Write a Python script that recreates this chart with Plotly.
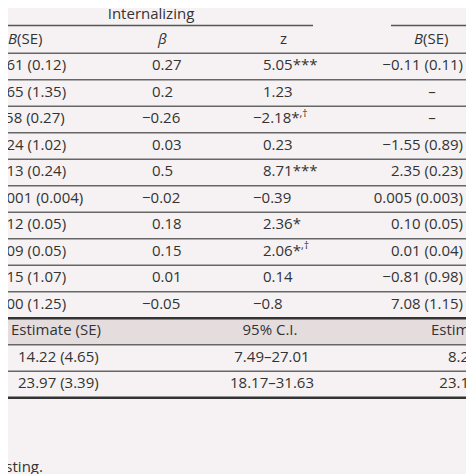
import plotly.graph_objs as go

# table content (visible part of a regression table)
b_se = ["0.61 (0.12)", "1.65 (1.35)", "−0.58 (0.27)", "0.24 (1.02)", "2.13 (0.24)",
        "0.001 (0.004)", "0.12 (0.05)", "0.09 (0.05)", "0.15 (1.07)", "1.00 (1.25)"]
beta = ["0.27", "0.2", "−0.26", "0.03", "0.5", "−0.02", "0.18", "0.15", "0.01", "−0.05"]
z_val = ["5.05***", "1.23", "−2.18*<sup>,†</sup>", "0.23", "8.71***", "−0.39", "2.36*",
         "2.06*<sup>,†</sup>", "0.14", "−0.8"]
b_se_ext = ["−0.11 (0.11)", "–", "–", "−1.55 (0.89)", "2.35 (0.23)", "0.005 (0.003)",
            "0.10 (0.05)", "0.01 (0.04)", "−0.81 (0.98)", "7.08 (1.15)"]
est_left = ["14.22 (4.65)", "23.97 (3.39)"]
ci = ["7.49–27.01", "18.17–31.63"]
est_right = ["8.25 (2.36)", "23.11 (3.02)"]

txt = "#333333"
font = dict(family="Open Sans", size=15, color=txt)
rows = list(range(1, len(b_se) + 1))
fig = go.Figure()


def col(x, y, text, pos):
    fig.add_trace(go.Scatter(x=x, y=y, text=text, mode="text", textposition=pos,
                             textfont=font, cliponaxis=True, hoverinfo="skip"))


def shift(vals, x0):
    # hang the minus sign to the left so digits line up
    return [x0 - 10 if v.startswith("−") else x0 for v in vals]


col(shift(b_se, -14), rows, b_se, "middle right")
col(shift(beta, 144), rows, beta, "middle right")
col(shift(z_val, 255), rows, z_val, "middle right")
col([455] * len(rows), rows, b_se_ext, "middle left")
# the right column centres its dashes
fig.data[-1].textposition = ["middle center" if v == "–" else "middle left" for v in b_se_ext]
fig.data[-1].x = [424 if v == "–" else 455 for v in b_se_ext]

# headers
col([143], [-0.93], ["Internalizing"], "middle center")
col([0, 150, 272, 406], [0] * 4, ["<i>B</i>(SE)", "<i>β</i>", "z", "<i>B</i>(SE)"], "middle right")
col([3, 262, 423], [11] * 3, ["Estimate (SE)", "95% C.I.", "Estimate (SE)"], "middle right")
fig.data[-1].textposition = ["middle right", "middle center", "middle right"]
col([10, 10], [12, 13], est_left, "middle right")
col([264, 264], [12, 13], ci, "middle center")
col([512, 512], [12, 13], est_right, "middle left")
col([-40], [16.15], ["Pretesting."], "middle right")

shapes = [dict(type="rect", x0=0, x1=474, y0=10.5, y1=11.5, fillcolor="#e5dcde", line_width=0, layer="below"),
          dict(type="line", x0=0, x1=305, y0=-0.55, y1=-0.55, line=dict(color="#555", width=1.5)),
          dict(type="line", x0=383, x1=474, y0=-0.55, y1=-0.55, line=dict(color="#555", width=1.5))]
for i in range(0, 14):
    w = 2.5 if i + 0.5 in (10.5, 13.5) else 1.5
    c = "#333" if w > 2 else "#666"
    shapes.append(dict(type="line", x0=0, x1=474, y0=i + 0.5, y1=i + 0.5, line=dict(color=c, width=w)))

fig.update_layout(
    width=474, height=474, margin=dict(l=0, r=0, t=0, b=0),
    paper_bgcolor="#f6f2f3", plot_bgcolor="#f6f2f3", showlegend=False,
    xaxis=dict(range=[0, 474], visible=False, fixedrange=True),
    yaxis=dict(range=[16.68, -1.2075], visible=False, fixedrange=True),
    shapes=shapes)
fig.write_html("out.html")
